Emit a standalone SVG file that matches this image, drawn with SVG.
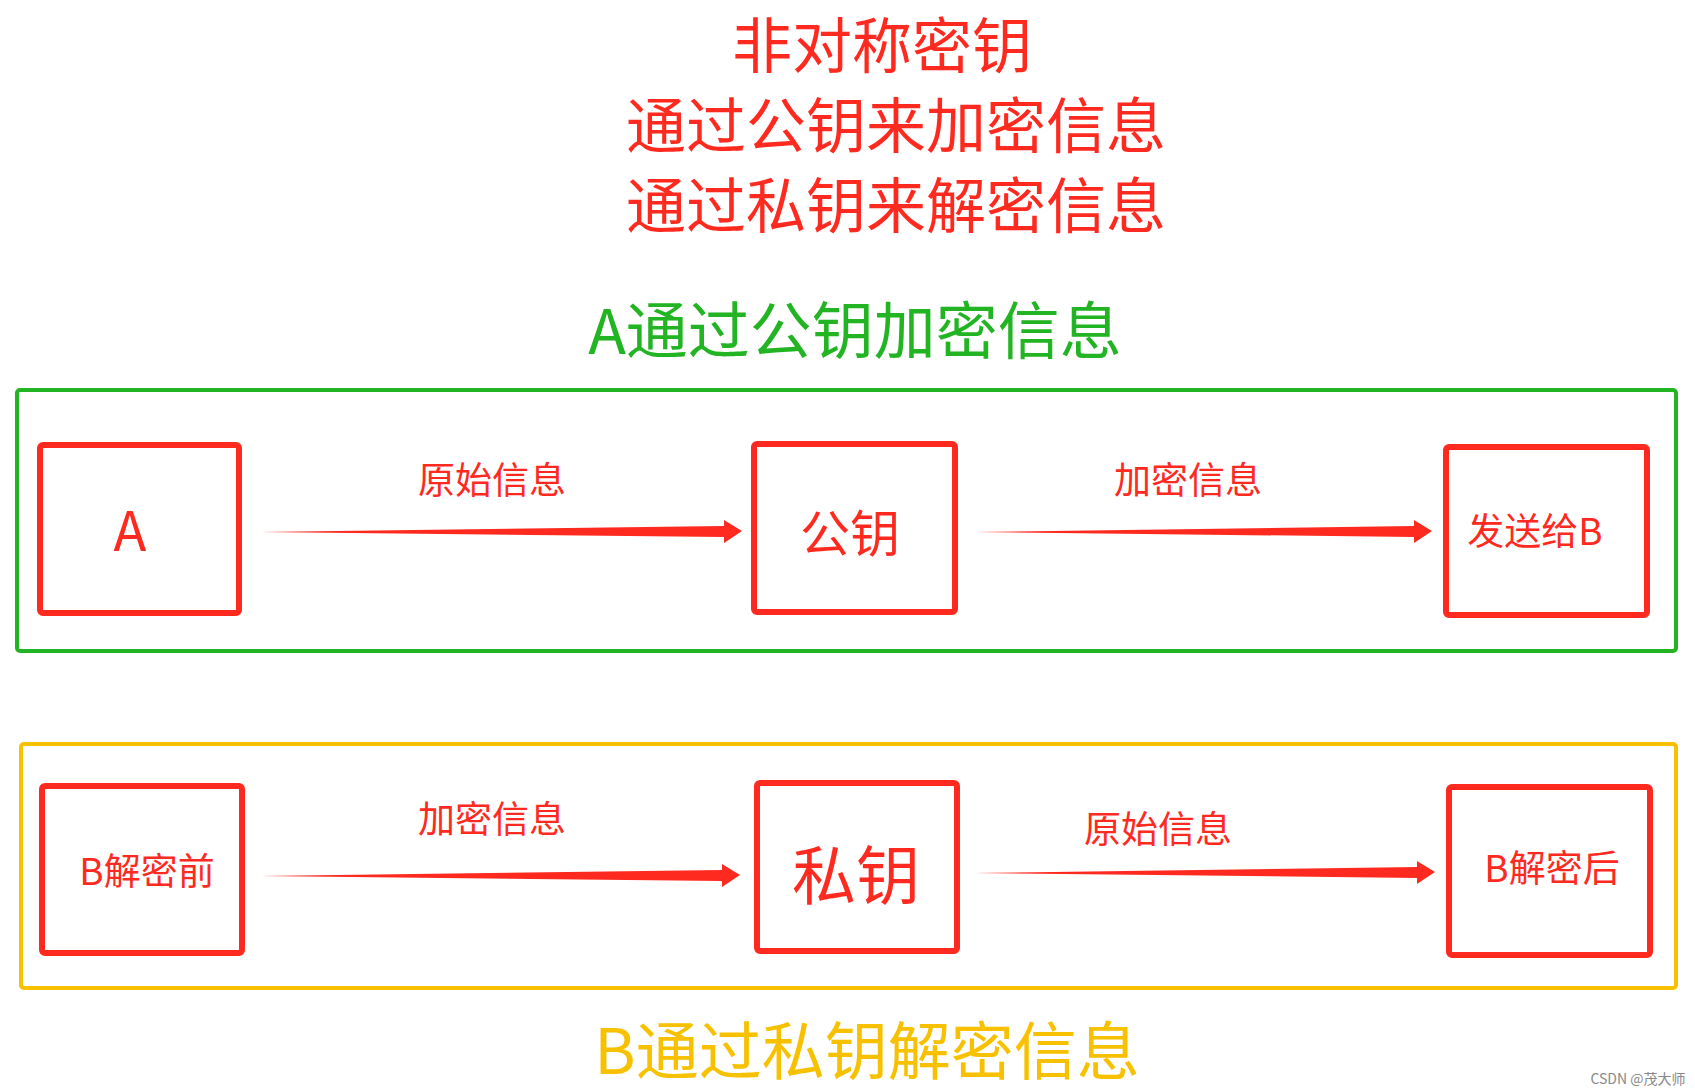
<svg xmlns="http://www.w3.org/2000/svg" width="1695" height="1090" viewBox="0 0 1695 1090">
<style>
text{font-family:"Noto Sans CJK SC","Liberation Sans",sans-serif;text-anchor:middle}
.r{fill:#ff2a1f}
.node{fill:none;stroke:#ff2a1f;stroke-width:6;}
.arr{fill:#ff2a1f}
</style>
<rect width="1695" height="1090" fill="#fff"/>
<g id="titles">
<text class="r" x="882" y="68" font-size="60">非对称密钥</text>
<text class="r" x="896" y="148" font-size="60">通过公钥来加密信息</text>
<text class="r" x="896" y="228" font-size="60">通过私钥来解密信息</text>
<text x="855" y="354" font-size="62" fill="#22b422">A通过公钥加密信息</text>
<text x="867" y="1074" font-size="63" fill="#f7c100">B通过私钥解密信息</text>
<text x="1638" y="1084" font-size="14" fill="#888">CSDN @茂大师</text>
</g>
<g id="groupA"><rect x="17" y="390" width="1659" height="261" rx="3" fill="none" stroke="#22b422" stroke-width="4"/></g>
<g id="groupB"><rect x="21" y="744" width="1655" height="244" rx="3" fill="none" stroke="#f7c100" stroke-width="4"/></g>
<g id="nA"><rect class="node" x="40" y="445" width="199" height="168" rx="3"/><text class="r" x="130" y="551" font-size="54" font-family="Liberation Sans">A</text></g>
<g id="nPub"><rect class="node" x="754" y="444" width="201" height="168" rx="3"/><text class="r" x="850" y="552" font-size="50">公钥</text></g>
<g id="nSend"><rect class="node" x="1446" y="447" width="201" height="168" rx="3"/><text class="r" x="1535" y="545" font-size="37">发送给B</text></g>
<g id="nBefore"><rect class="node" x="42" y="786" width="200" height="167" rx="3"/><text class="r" x="147" y="885" font-size="37">B解密前</text></g>
<g id="nPriv"><rect class="node" x="757" y="783" width="200" height="168" rx="3"/><text class="r" x="856" y="899" font-size="64">私钥</text></g>
<g id="nAfter"><rect class="node" x="1449" y="787" width="201" height="168" rx="3"/><text class="r" x="1552" y="882" font-size="37">B解密后</text></g>
<g id="connectors">
<path class="arr" d="M261 532 L724 526 L724 520 L742 531 L724 543 L724 537 Z"/>
<text class="r" x="492" y="494" font-size="37">原始信息</text>
<path class="arr" d="M975 532 L1414 526 L1414 520 L1432 531 L1414 543 L1414 537 Z"/>
<text class="r" x="1188" y="494" font-size="37">加密信息</text>
<path class="arr" d="M261 876 L722 870 L722 864 L740 875 L722 887 L722 881 Z"/>
<text class="r" x="492" y="833" font-size="37">加密信息</text>
<path class="arr" d="M975 873 L1417 867 L1417 861 L1435 872 L1417 884 L1417 878 Z"/>
<text class="r" x="1158" y="843" font-size="37">原始信息</text>
</g>
</svg>
